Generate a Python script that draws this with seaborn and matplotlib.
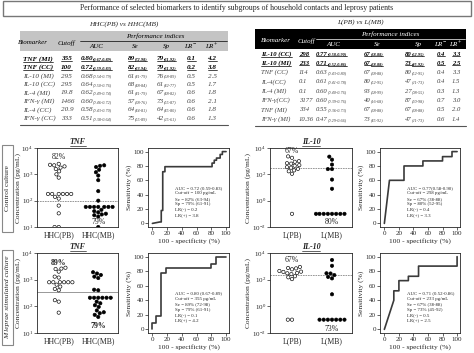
import numpy as np
import pandas as pd
import seaborn as sns
import matplotlib.pyplot as plt
from matplotlib.patches import Rectangle
from matplotlib.lines import Line2D
from matplotlib.transforms import IdentityTransform

W, H = 474, 353

# ---------------- table data ----------------
left_markers = ["TNF (MI)", "TNF (CC)", "IL-10 (MI)", "IL-10 (CC)", "IL-4 (MI)", "IFN-γ (MI)", "IL-4 (CC)", "IFN-γ (CC)"]
left_cutoff = ["355", "100", "295", "295", "19.8", "1466", "20.9", "333"]
left_auc = ["0.80", "0.72", "0.68", "0.64", "0.62", "0.60", "0.58", "0.51"]
left_auc_ci = ["(0.67-0.89)", "(0.59-0.83)", "(0.54-0.79)", "(0.50-0.76)", "(0.49-0.74)", "(0.46-0.72)", "(0.43-0.70)", "(0.38-0.64)"]
left_se = ["89", "82", "61", "68", "61", "57", "64", "75"]
left_se_ci = ["(72-98)", "(63-94)", "(41-79)", "(48-84)", "(41-79)", "(38-76)", "(44-81)", "(55-89)"]
left_sp = ["79", "79", "76", "61", "67", "73", "64", "42"]
left_sp_ci = ["(61-92)", "(61-92)", "(58-89)", "(42-77)", "(48-82)", "(55-87)", "(45-80)", "(25-61)"]
left_lrn = ["0.1", "0.2", "0.5", "0.5", "0.6", "0.6", "0.6", "0.6"]
left_lrp = ["4.2", "3.8", "2.5", "1.7", "1.8", "2.1", "1.8", "1.3"]

right_markers = ["IL-10 (CC)", "IL-10 (MI)", "TNF (CC)", "IL-4(CC)", "IL-4 (MI)", "IFN-γ(CC)", "TNF (MI)", "IFN-γ (MI)"]
right_cutoff = ["298", "233", "114", "0.1", "0.1", "3177", "334", "10.36"]
right_auc = ["0.77", "0.71", "0.63", "0.61", "0.60", "0.60", "0.55", "0.47"]
right_auc_ci = ["(0.58-0.90)", "(0.52-0.86)", "(0.43-0.80)", "(0.41-0.78)", "(0.40-0.76)", "(0.39-0.76)", "(0.36-0.73)", "(0.29-0.66)"]
right_se = ["67", "67", "67", "80", "93", "40", "67", "73"]
right_se_ci = ["(38-88)", "(38-88)", "(38-88)", "(52-95)", "(68-99)", "(16-68)", "(38-88)", "(45-92)"]
right_sp = ["80", "73", "80", "47", "27", "87", "67", "47"]
right_sp_ci = ["(52-95)", "(45-92)", "(52-95)", "(21-73)", "(08-55)", "(60-98)", "(38-88)", "(21-73)"]
right_lrn = ["0.4", "0.5", "0.4", "0.4", "0.3", "0.7", "0.5", "0.6"]
right_lrp = ["3.3", "2.5", "3.3", "1.5", "1.3", "3.0", "2.0", "1.4"]

# ---------------- strip plot data (pg/mL) ----------------
tnf_cc_pb = [2500, 2300, 2200, 2000, 1800, 1600, 1300, 1000, 750] + [180] * 6 + [140, 120, 65, 33, 10, 10]
tnf_cc_mb = [2200, 2100, 1900, 1500, 1200, 900, 600, 230, 100] + [58] * 7 + [45, 40, 36, 32, 30, 28, 25, 10]
tnf_mi_pb = [2800, 2600, 2500, 2000, 1300, 1200] + [800] * 6 + [650, 550, 450, 400, 170, 150, 58]
tnf_mi_mb = [1900, 1700, 1500, 1300, 1150, 420, 400] + [210] * 6 + [150, 130, 110, 95, 70, 60, 55, 48, 40]
il10_cc_pb = [2300, 1800, 1000, 900, 700, 650, 500, 450, 350, 320, 260, 200, 170, 110, 0.1]
il10_cc_mb = [2200, 1300, 550, 250, 250, 40, 8] + [0.1] * 8
il10_mi_pb = [900, 750, 700, 600, 450, 400, 380, 320, 300, 260, 180, 150, 110, 0.1, 0.1]
il10_mi_mb = [3000, 1100, 300, 290, 220, 160, 125, 8] + [0.1] * 7

# ---------------- ROC data (100-specificity, sensitivity) ----------------
roc_tnf_cc_x = [0, 10, 12, 12, 14, 14, 17, 17, 81, 81, 84, 84, 87, 87, 92, 92, 95, 95, 100]
roc_tnf_cc_y = [0, 2, 2, 18, 18, 72, 72, 79, 79, 84, 84, 88, 88, 91, 91, 96, 96, 100, 100]
roc_tnf_mi_x = [0, 0, 5, 5, 11, 11, 18, 18, 80, 80, 86, 86, 100]
roc_tnf_mi_y = [0, 9, 9, 18, 18, 78, 78, 84, 84, 90, 90, 100, 100]
roc_il10_cc_x = [0, 7, 27, 27, 53, 53, 80, 80, 93, 93, 100]
roc_il10_cc_y = [0, 60, 60, 80, 80, 87, 87, 93, 93, 100, 100]
roc_il10_mi_x = [0, 13, 13, 20, 20, 33, 33, 47, 47, 100, 100]
roc_il10_mi_y = [0, 40, 53, 53, 67, 67, 73, 73, 87, 87, 100]

roc_tnf_cc_txt = ["AUC = 0.72 (0.59-0.83)", "Cut-off = 100 pg/mL", "Se = 82% (63-94)", "Sp = 79% (61-91)", "LR(-) = 0.2", "LR(+) = 3.8"]
roc_tnf_mi_txt = ["AUC = 0.80 (0.67-0.89)", "Cut-off = 355 pg/mL", "Se = 89% (72-98)", "Sp = 79% (61-91)", "LR(-) = 0.1", "LR(+) = 4.2"]
roc_il10_cc_txt = ["AUC = 0.77(0.58-0.90)", "Cut-off = 298 pg/mL", "Se = 67% (38-88)", "Sp = 80% (52-95)", "LR(-) = 0.4", "LR(+) = 3.3"]
roc_il10_mi_txt = ["AUC = 0.71 (0.52-0.86)", "Cut-off = 233 pg/mL", "Se = 67% (38-88)", "Sp = 73% (45-92)", "LR(-) = 0.5", "LR(+) = 2.5"]

sns.set_theme(style="ticks")
plt.rcParams["font.family"] = ["Liberation Serif", "DejaVu Serif"]
plt.rcParams["mathtext.fontset"] = "stix"
plt.rcParams["axes.linewidth"] = 0.6

fig = plt.figure(figsize=(W / 100, H / 100), dpi=100)
underline = []


def ftext(x, y, s, **kw):
    return fig.text(x / W, 1 - y / H, s, **kw)


def frect(x0, y0, x1, y1, **kw):
    fig.add_artist(Rectangle((x0 / W, 1 - y1 / H), (x1 - x0) / W, (y1 - y0) / H,
                             transform=fig.transFigure, **kw))


def fline(x0, x1, y, **kw):
    fig.add_artist(Line2D([x0 / W, x1 / W], [1 - y / H, 1 - y / H], transform=fig.transFigure, **kw))


def add_ax(x0, y0, x1, y1):
    return fig.add_axes([x0 / W, 1 - y1 / H, (x1 - x0) / W, (y1 - y0) / H])


# title box
frect(3, 1, 471, 16, facecolor="white", edgecolor="#777777", lw=1.0)
ftext(237, 8.5, "Performance of selected biomarkers to identify subgroups of household contacts and leprosy patients",
      ha="center", va="center", fontsize=5.6)


def draw_table(d, g):
    b0 = g["b0"]
    frect(g["x0"], b0, g["x1"], b0 + 20, facecolor=g["band"], edgecolor="none")
    hc = g["head"]
    ftext((g["x0"] + g["x1"]) / 2, b0 - 6.5, g["title"], ha="center", va="center", fontsize=5.2, style="italic")
    hk = dict(va="center", fontsize=5, style="italic", color=hc)
    ftext(g["hb"], b0 + 12, "Biomarker", ha="center", **hk)
    ftext(g["hc"], b0 + 12, "Cutoff", ha="center", **hk)
    ftext(g["hp"], b0 + 5.5, "Performance indices", ha="center", **hk)
    fline(g["lp"], g["x1"] - 1, b0 + 10, color=hc, lw=0.5)
    for key, lab in zip(["ha", "hse", "hsp", "hn", "hpp"], ["AUC", "Se", "Sp", "LR$^{-}$", "LR$^{+}$"]):
        ftext(g[key], b0 + 15.5, lab, ha="center", **hk)
    fs = g["fs"]
    for i in range(8):
        y = g["y0"] + i * g["dy"]
        top = i < 2
        kw = dict(va="center", style="italic", color="black" if top else "#444444",
                  weight="bold" if top else "normal")
        cells = [
            ftext(g["cm"], y, d["markers"][i], ha="left", fontsize=fs, **kw),
            ftext(g["cc"], y, d["cutoff"][i], ha="left", fontsize=fs, **kw),
            ftext(g["ca"], y, d["auc"][i], ha="left", fontsize=fs, **kw),
            ftext(g["ca"] + 11.5, y + 0.5, d["auc_ci"][i], ha="left", fontsize=3.1, **kw),
            ftext(g["cse"], y, d["se"][i], ha="left", fontsize=fs, **kw),
            ftext(g["cse"] + 6.5, y + 0.5, d["se_ci"][i], ha="left", fontsize=3.1, **kw),
            ftext(g["csp"], y, d["sp"][i], ha="left", fontsize=fs, **kw),
            ftext(g["csp"] + 6.5, y + 0.5, d["sp_ci"][i], ha="left", fontsize=3.1, **kw),
            ftext(g["hn"], y, d["lrn"][i], ha="center", fontsize=fs, **kw),
            ftext(g["hpp"], y, d["lrp"][i], ha="center", fontsize=fs, **kw),
        ]
        if top:
            underline.extend(cells)
    fline(g["x0"], g["x1"], g["rule"], color="#555555", lw=0.8)


left_tab = dict(markers=left_markers, cutoff=left_cutoff, auc=left_auc, auc_ci=left_auc_ci, se=left_se,
                se_ci=left_se_ci, sp=left_sp, sp_ci=left_sp_ci, lrn=left_lrn, lrp=left_lrp)
right_tab = dict(markers=right_markers, cutoff=right_cutoff, auc=right_auc, auc_ci=right_auc_ci, se=right_se,
                 se_ci=right_se_ci, sp=right_sp, sp_ci=right_sp_ci, lrn=right_lrn, lrp=right_lrp)

draw_table(left_tab, dict(x0=20, x1=228, b0=31, band="#c4c4c4", head="black", title="HHC(PB) vs HHC(MB)",
                          hb=33, hc=66, hp=155, lp=80, ha=96, hse=135, hsp=166, hn=191, hpp=212,
                          cm=23, cc=61, ca=81, cse=128, csp=157, y0=59, dy=8.5, rule=124.5, fs=5.1))
draw_table(right_tab, dict(x0=255, x1=466, b0=29, band="black", head="white", title="L(PB) vs L(MB)",
                           hb=276, hc=306, hp=390, lp=316, ha=333, hse=377, hsp=418, hn=441, hpp=456,
                           cm=261, cc=299, ca=316, cse=364, csp=405, y0=54, dy=9.3, rule=126.5, fs=4.8))

# side labels
frect(2, 145, 13, 232, facecolor="white", edgecolor="#888888", lw=0.8)
ftext(7.5, 188, "Control culture", rotation=90, ha="center", va="center", fontsize=5.4)
frect(2, 250, 13, 345, facecolor="white", edgecolor="#888888", lw=0.8)
ftext(7.5, 297, "M leprae stimulated culture", rotation=90, ha="center", va="center", fontsize=5.4, style="italic")


def style_ax(ax):
    ax.tick_params(labelsize=5, length=2, width=0.5, pad=1)
    for s in ax.spines.values():
        s.set_visible(True)
        s.set_linewidth(0.6)


def strip(ax, pb, mb, labs, ylim, yticks, cut, pcts, pct_y, bold, title, ls):
    df = pd.DataFrame({"group": [labs[0]] * len(pb) + [labs[1]] * len(mb), "value": pb + mb})
    sns.swarmplot(data=df, x="group", y="value", hue="group", palette={labs[0]: "white", labs[1]: "black"},
                  edgecolor="black", linewidth=0.45, size=2.4, legend=False, log_scale=True, ax=ax)
    ax.axhline(cut, color="#888888", lw=0.6, ls=ls, zorder=0)
    ax.set_ylim(*ylim)
    ax.set_yticks(yticks)
    ax.minorticks_off()
    ax.set_xlim(-0.55, 1.5)
    style_ax(ax)
    ax.tick_params(axis="x", length=0, labelsize=5.6, pad=3)
    ax.set_xlabel("")
    ax.set_ylabel("Concentration (pg/mL)", fontsize=5.4, labelpad=0.5)
    for k in range(2):
        ax.text(k, pct_y[k], pcts[k], ha="center", va="center", fontsize=5.6, weight="bold" if bold else "normal")
    t = ax.set_title(title, fontsize=5.8, style="italic", weight="bold", pad=3)
    underline.append(t)


def roc(ax, x, y, txt):
    sns.lineplot(x=x, y=y, sort=False, estimator=None, color="#3a3a3a", lw=1.2, ax=ax)
    ax.set_xlim(-6, 104)
    ax.set_ylim(-5, 105)
    ax.set_xticks(range(0, 101, 20))
    ax.set_yticks(range(0, 101, 20))
    style_ax(ax)
    ax.set_xlabel("100 - specificity (%)", fontsize=5.4, labelpad=1)
    ax.set_ylabel("Sensitivity (%)", fontsize=5.4, labelpad=1)
    ax.text(31, 52, "\n".join(txt), ha="left", va="top", fontsize=3.5, linespacing=1.45)


strip(add_ax(37, 148, 118, 227), tnf_cc_pb, tnf_cc_mb, ["HHC(PB)", "HHC(MB)"], (10, 10000), [10, 100, 1000, 10000],
      100, ["82%", "79%"], [4500, 15], False, "TNF", (0, (2, 1)))
roc(add_ax(148, 148, 229, 227), roc_tnf_cc_x, roc_tnf_cc_y, roc_tnf_cc_txt)
strip(add_ax(270, 148, 352, 227), il10_cc_pb, il10_cc_mb, ["L(PB)", "L(MB)"], (0.01, 10000), [0.01, 1, 100, 10000],
      298, ["67%", "80%"], [5500, 0.025], False, "IL-10", (0, (2, 1)))
roc(add_ax(380, 148, 460, 227), roc_il10_cc_x, roc_il10_cc_y, roc_il10_cc_txt)

strip(add_ax(37, 253, 118, 333), tnf_mi_pb, tnf_mi_mb, ["HHC(PB)", "HHC(MB)"], (10, 10000), [10, 100, 1000, 10000],
      355, ["89%", "79%"], [4200, 19], True, "TNF", "-")
roc(add_ax(148, 253, 229, 333), roc_tnf_mi_x, roc_tnf_mi_y, roc_tnf_mi_txt)
strip(add_ax(270, 253, 352, 333), il10_mi_pb, il10_mi_mb, ["L(PB)", "L(MB)"], (0.01, 10000), [0.01, 1, 100, 10000],
      233, ["67%", "73%"], [3000, 0.02], False, "IL-10", (0, (2, 1)))
roc(add_ax(380, 253, 460, 333), roc_il10_mi_x, roc_il10_mi_y, roc_il10_mi_txt)

# underline bold labels
fig.canvas.draw()
for t in underline:
    bb = t.get_window_extent()
    fig.add_artist(Line2D([bb.x0, bb.x1], [bb.y0 + 0.3, bb.y0 + 0.3], transform=IdentityTransform(),
                          color=t.get_color(), lw=0.5))

fig.savefig("out.png", dpi=100)
